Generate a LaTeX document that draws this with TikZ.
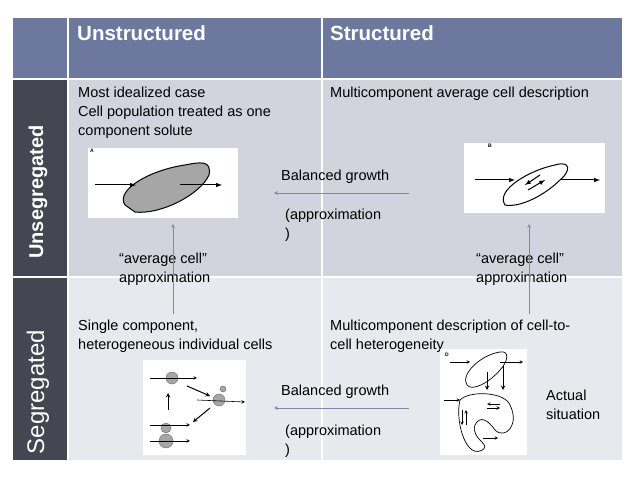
\documentclass[tikz,border=0pt]{standalone}
\usepackage{fontspec}
\setmainfont{Liberation Sans}
\begin{document}
\begin{tikzpicture}[x=1pt,y=-1pt,
  txt/.style={anchor=north west,inner sep=0pt,font=\fontsize{14.5}{19}\selectfont,align=left,text=black},
  hdr/.style={anchor=north west,inner sep=0pt,font=\fontsize{20.5}{24}\selectfont\bfseries,text=white},
  conn/.style={draw=cn,line width=0.7pt,->,>=stealth},
  pic/.style={fill=white,draw=none},
  ink/.style={line width=1pt,->,>=latex}]
\definecolor{hd}{HTML}{6D789F}
\definecolor{lc}{HTML}{464653}
\definecolor{ra}{HTML}{D2D4DD}
\definecolor{rb}{HTML}{E8E9EE}
\definecolor{cn}{HTML}{8088B0}
\useasboundingbox (0,0) rectangle (638,478);
\fill[white] (0,0) rectangle (638,478);
\fill[hd] (13,18) rectangle (622,78);
\fill[lc] (13,80) rectangle (68,460);
\fill[ra] (68,80) rectangle (622,277);
\fill[rb] (68,277) rectangle (622,460);
\draw[white,line width=1.5pt] (68,18) -- (68,460) (322,18) -- (322,460) (13,79) -- (622,79) (13,277) -- (622,277);
\node[hdr] (h1) at (77,25) {Unstructured};
\node[hdr] (h2) at (330,25) {Structured};
\node[rotate=90,font=\fontsize{20}{24}\selectfont\bfseries,text=white] (u) at (38,192) {Unsegregated};
\node[rotate=90,font=\fontsize{24}{28}\selectfont,text=white] (s) at (38,392) {Segregated};
\node[txt] (t1) at (78,87) {Most idealized case\\Cell population treated as one\\component solute};
\node[txt] (t2) at (330,87) {Multicomponent average cell description};
\node[txt] (t3) at (78,320) {Single component,\\heterogeneous individual cells};
\node[txt] (t4) at (330,320) {Multicomponent description of cell-to-\\cell heterogeneity};
% pictures
\fill[pic] (88,148) rectangle (238,218);
\fill[pic] (464,143) rectangle (605,213);
\fill[pic] (143,360) rectangle (246,455);
\fill[pic] (440,349) rectangle (527,455);
% A
\draw[line width=1pt,fill=gray!70] (125,205) .. controls (115,190) and (150,170) .. (185,165) .. controls (200,162) and (212,160) .. (209,175) .. controls (200,195) and (160,215) .. (135,212) -- cycle;
\draw[ink] (95,185) -- (136,185);
\draw[ink] (180,185) -- (222,185);
\node[font=\tiny\bfseries,inner sep=0pt] (la) at (92,151) {A};
% B
\draw[line width=1pt] (505,205) .. controls (495,190) and (530,170) .. (555,165) .. controls (572,160) and (570,172) .. (560,180) .. controls (545,195) and (520,208) .. (505,205) -- cycle;
\draw[ink] (475,180) -- (515,180);
\draw[ink] (560,180) -- (600,180);
\draw[ink] (540,175) -- (525,185);
\draw[ink] (528,190) -- (545,180);
\node[font=\tiny\bfseries,inner sep=0pt] (lb) at (490,146) {B};
% C
\foreach \cx/\cy/\r in {172/378/6, 219/400/6, 166/428/5, 166/441/7}{\fill[gray!70,draw=black!60] (\cx,\cy) circle (\r);}
\fill[gray!70,draw=black!60] (223,389) circle (3);
\draw[ink,line width=0.6pt,-stealth] (150,378) -- (197,378);
\draw[ink,line width=0.6pt,-stealth] (197,400) -- (245,402);
\draw[ink,line width=0.6pt,-stealth] (150,425) -- (190,425);
\draw[ink,line width=0.6pt,-stealth] (150,441) -- (190,441);
\draw[ink,line width=1pt,-stealth] (187,386) -- (210,396);
\draw[ink,line width=1pt,-stealth] (210,408) -- (193,422);
\draw[ink,line width=1pt,-stealth] (168,410) -- (168,393);
% D
\draw[line width=0.7pt] (467,385) .. controls (460,375) and (480,355) .. (500,352) .. controls (510,350) and (508,362) .. (500,370) .. controls (490,382) and (472,392) .. (467,385) -- cycle;
\draw[line width=0.7pt] (460,400) .. controls (470,390) and (505,392) .. (510,405) .. controls (520,425) and (505,440) .. (495,430) .. controls (488,420) and (480,415) .. (475,425) .. controls (470,440) and (495,445) .. (480,451) .. controls (465,456) and (455,420) .. (460,400) -- cycle;
\draw[ink,line width=0.5pt,-stealth] (450,362) -- (470,362);
\draw[ink,line width=0.5pt,-stealth] (500,362) -- (523,362);
\draw[ink,line width=1pt,-stealth] (487,372) -- (487,390);
\draw[ink,line width=1pt,-stealth] (503,366) -- (503,390);
\draw[ink,line width=0.5pt,-stealth] (444,400) -- (460,400);
\draw[ink,line width=0.5pt,-stealth] (483,438) -- (498,438);
\draw[ink,line width=0.6pt,-stealth] (500,404) -- (487,404);
\draw[ink,line width=0.6pt,-stealth] (487,408) -- (500,408);
\draw[ink,line width=0.6pt,-stealth] (462,410) -- (462,425);
\draw[ink,line width=0.6pt,-stealth] (466,425) -- (466,410);
\node[font=\tiny\bfseries,inner sep=0pt] (ld) at (447,355) {D};
% labels
\node[txt] (bg1) at (281,170) {Balanced growth};
\node[txt] (ap1) at (285,209) {(approximation\\)};
\node[txt] (bg2) at (281,385) {Balanced growth};
\node[txt] (ap2) at (285,425) {(approximation\\)};
\node[txt] (av1) at (119,253) {“average cell”\\approximation};
\node[txt] (av2) at (476,253) {“average cell”\\approximation};
\node[txt] (act) at (546,390) {Actual\\situation};
\coordinate (a1s) at (409,193); \coordinate (a1e) at (274,193);
\coordinate (a2s) at (409,408); \coordinate (a2e) at (274,408);
\coordinate (v1s) at (173,314); \coordinate (v1e) at (173,224);
\coordinate (v2s) at (529,314); \coordinate (v2e) at (529,224);
\draw[conn] (a1s) -- (a1e);
\draw[conn] (a2s) -- (a2e);
\draw[conn] (v1s) -- (v1e);
\draw[conn] (v2s) -- (v2e);
\end{tikzpicture}
\end{document}
